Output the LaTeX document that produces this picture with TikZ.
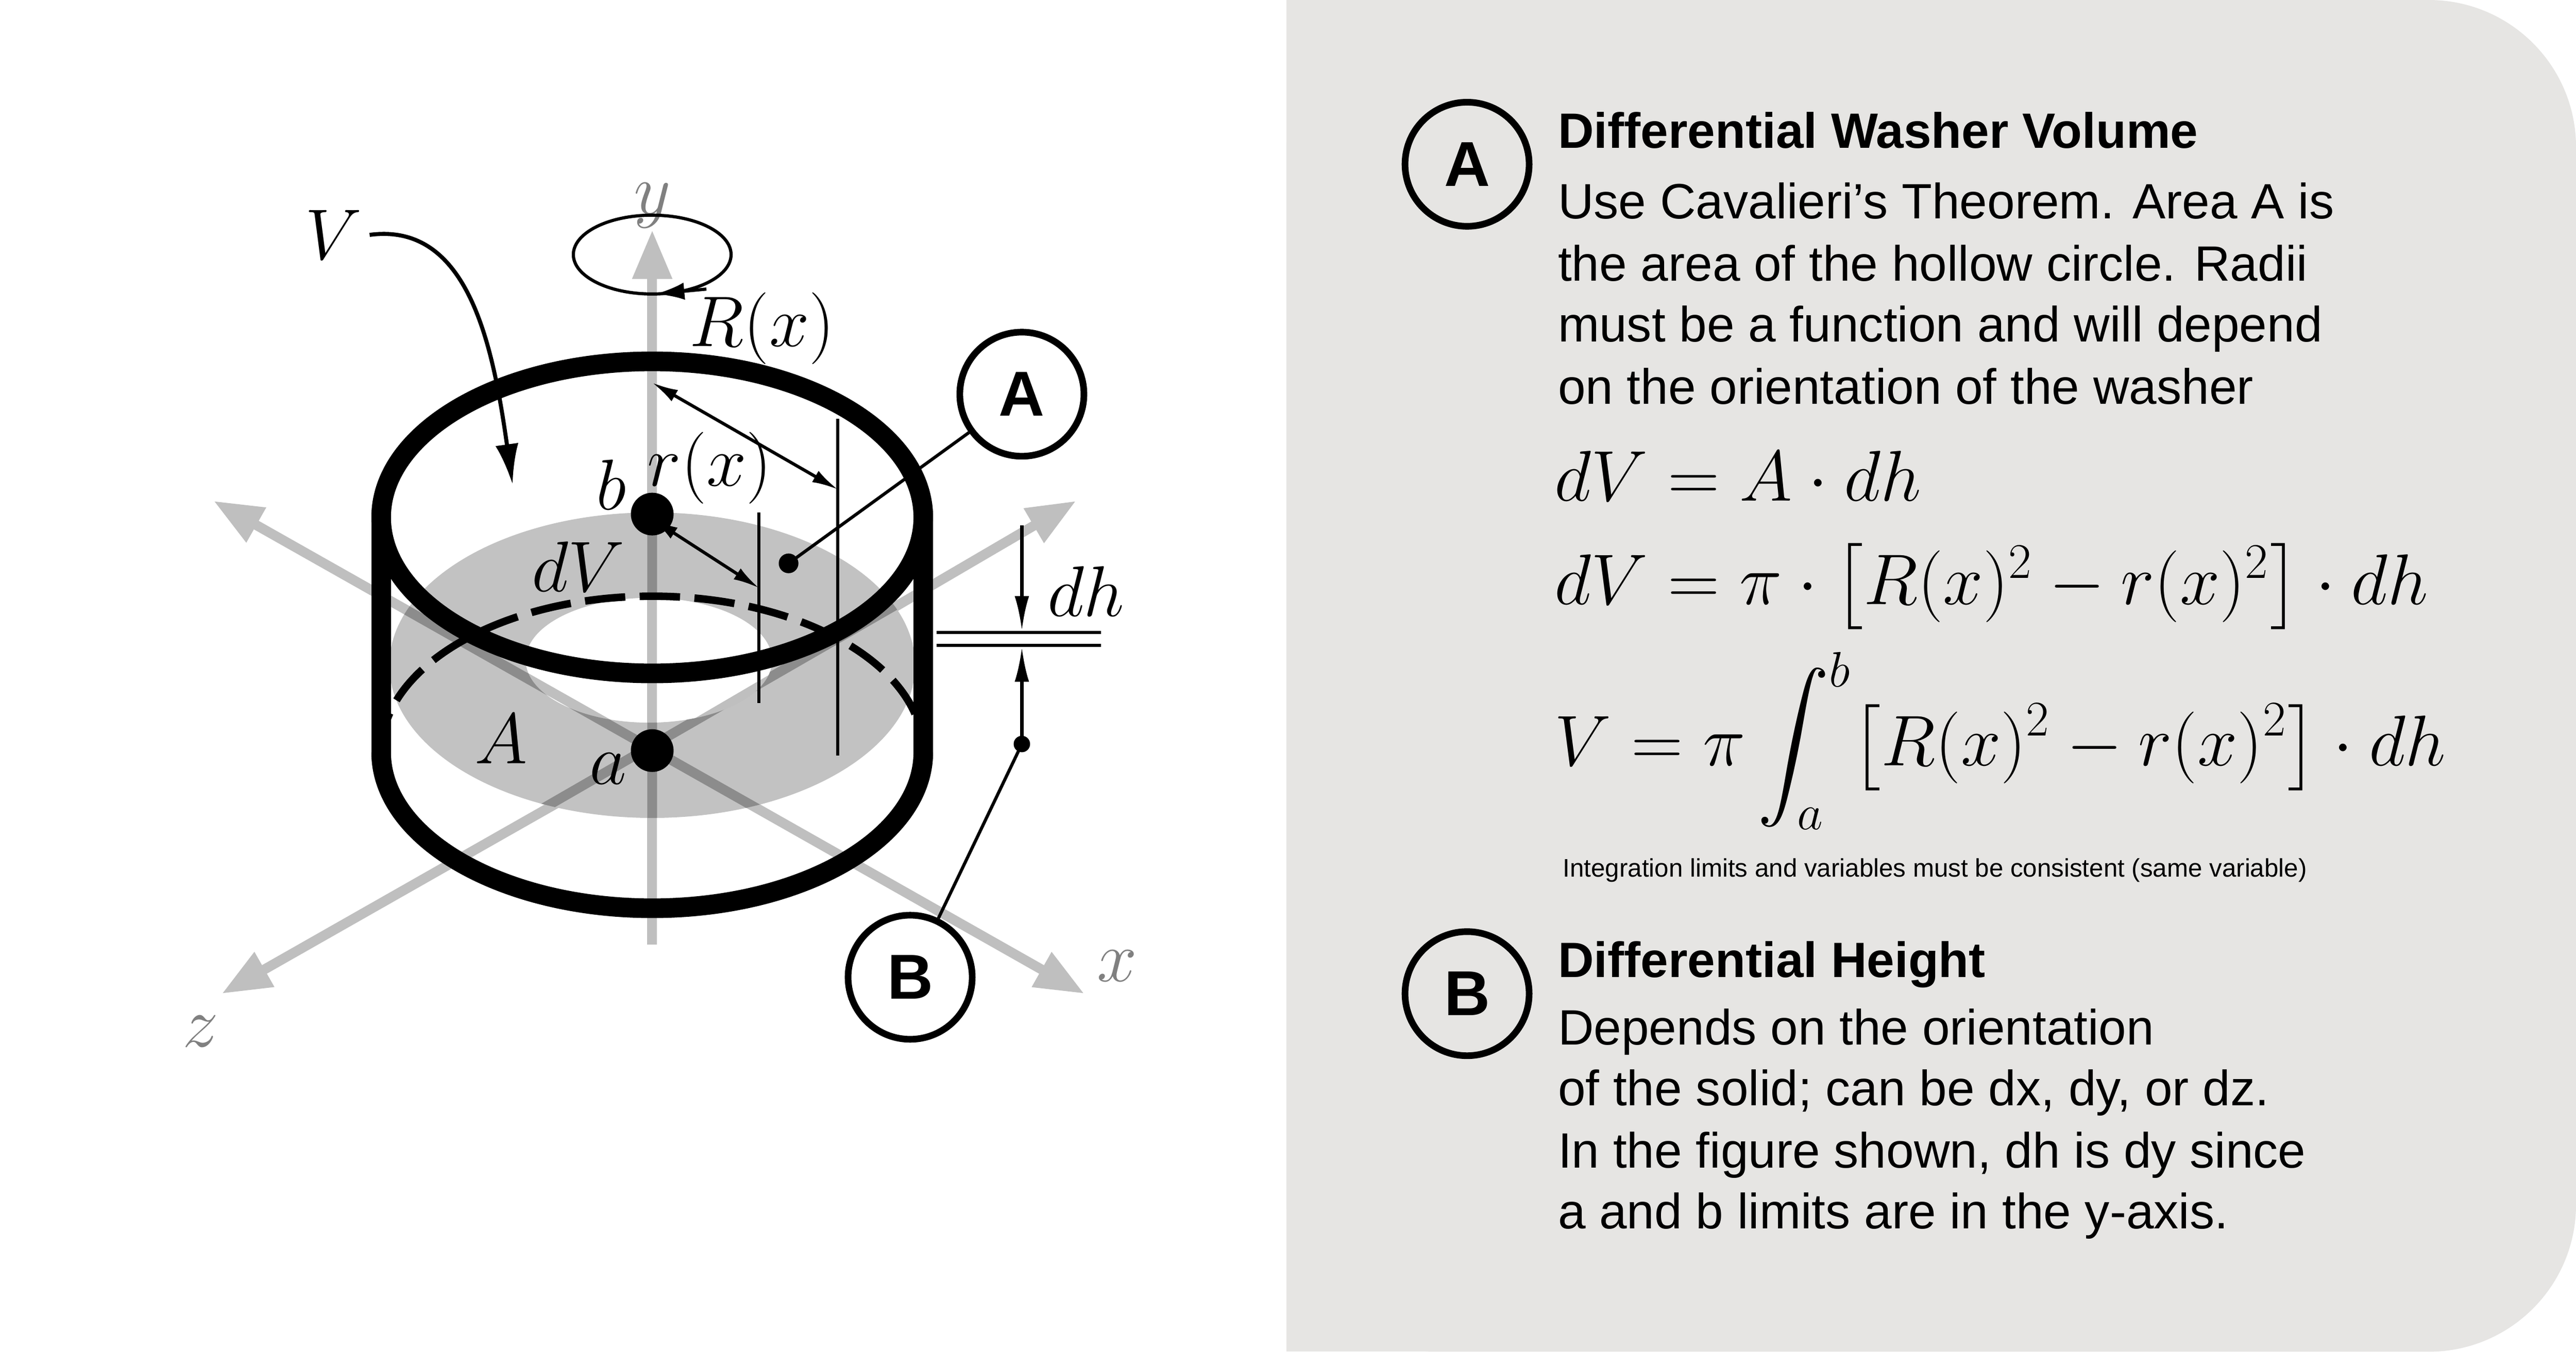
\documentclass[tikz,border=0pt]{standalone}
\usepackage{exscale}
\usepackage{fontspec}
\setmainfont{Liberation Sans}
\usetikzlibrary{arrows.meta}
\definecolor{panel}{HTML}{E6E5E3}
\definecolor{axisg}{HTML}{BFBFBF}
\definecolor{ring}{HTML}{C2C2C2}
\tikzset{
 ax/.style={axisg,line width=3.4pt,-{Triangle[length=17pt,width=13pt]}},
 cyl/.style={line width=6.8pt},
 thin/.style={line width=1.1pt},
 dim/.style={thin,{Latex[length=9pt,width=4.5pt]}-{Latex[length=9pt,width=4.5pt]}},
 lab/.style={inner sep=0pt,font=\fontsize{28}{32}\selectfont},
 badge/.style={circle,draw,line width=2.3pt,minimum size=43pt,inner sep=0pt,font=\fontsize{22}{26}\selectfont\bfseries},
 body/.style={anchor=base west,inner sep=0pt,font=\fontsize{17.2}{20}\selectfont},
 ttl/.style={anchor=base west,inner sep=0pt,font=\fontsize{17.2}{20}\selectfont\bfseries},
 eq/.style={anchor=base west,inner sep=0pt,font=\fontsize{27}{31}\selectfont},
}
\begin{document}
\begin{tikzpicture}[x=0.02cm,y=-0.02cm]
\useasboundingbox (0,0) rectangle (1568,823);
\fill[white] (0,0) rectangle (1568,823);
\fill[panel,rounded corners=51pt] (783,0) rectangle (1568,823);
\fill[panel] (783,0) rectangle (1100,823);
% axes
\coordinate (O) at (397,456);
\draw[ax] (397,560) -- (397,140) coordinate (ytip);
\draw[axisg,line width=3.4pt] (397,540) -- (397,575);
\draw[ax] (O) -- (130,305);
\draw[ax] (O) -- (660,605);
\draw[ax] (O) -- (655,305);
\draw[ax] (O) -- (135,605);
\node[lab,text=gray] (ylab) at (397,125) {$y$};
\node[lab,text=gray] (xlab) at (680,588) {$x$};
\node[lab,text=gray] (zlab) at (122,628) {$z$};
% washer
\fill[ring,even odd rule] (397,405) ellipse [x radius=160,y radius=93] (395,402) ellipse [x radius=75,y radius=38];
\begin{scope}[even odd rule]
\clip (397,405) ellipse [x radius=160,y radius=93] (395,402) ellipse [x radius=75,y radius=38];
\draw[black!45,line width=3.4pt] (397,560) -- (397,140) (130,305) -- (660,605) (655,305) -- (135,605);
\end{scope}
% cylinder
\draw[line width=2.6pt,dash pattern=on 14pt off 5pt] (232,458) arc[start angle=180,end angle=0,x radius=165,y radius=-95];
\draw[cyl] (232,458) arc[start angle=180,end angle=360,x radius=165,y radius=-95];
\draw[cyl] (232,315) -- (232,458) (562,315) -- (562,458);
\draw[cyl] (397,315) ellipse [x radius=165,y radius=95];
% points
\fill (397,313) circle (13) coordinate (b);
\fill (397,457) circle (13) coordinate (a);
\node[lab] at (372,295) {$b$};
\node[lab] at (370,468) {$a$};
% rotation
\draw[thin] (397,155) ellipse [x radius=48,y radius=24];
\draw[thin,-{Latex[length=10pt,width=6pt]}] (430,176) -- (399,179);
% dimensions
\draw[thin] (510,255) -- (510,460);
\draw[thin] (462,312) -- (462,428);
\draw[dim] (397,233) -- (510,298);
\draw[dim] (397,316) -- (462,358);
\node[lab] at (464,200) {$R(x)$};
\node[lab] at (432,285) {$r(x)$};
\node[lab] at (352,345) {$dV$};
\node[lab] at (305,450) {$A$};
\node[lab] at (203,143) {$V$};
\draw[line width=1.4pt,-{Latex[length=14pt,width=8pt]}] (225,143) .. controls (285,135) and (300,210) .. (312,295);
% dh
\draw[thin] (570,385) -- (670,385) (570,393) -- (670,393);
\draw[thin,-{Latex[length=12pt,width=5pt]}] (622,320) -- (622,384);
\fill (622,453) circle (5) coordinate (bdot);
\draw[thin,-{Latex[length=12pt,width=5pt]}] (bdot) -- (622,394);
\node[lab] at (661,360) {$dh$};
% badges
\node[badge,fill=white] (A) at (622,240) {A};
\fill (480,343) circle (6) coordinate (adot);
\draw[thin] (A) -- (adot);
\node[badge,fill=white] (B) at (554,595) {B};
\draw[thin] (B) -- (bdot);
% right panel
\node[badge] (A2) at (893,100) {A};
\node[ttl] at (948,90) {Differential Washer Volume};
\node[body] at (948,133) {Use Cavalieri’s Theorem. Area A is};
\node[body] at (948,171) {the area of the hollow circle. Radii};
\node[body] at (948,208) {must be a function and will depend};
\node[body] at (948,246) {on the orientation of the washer};
\node[eq] at (946,305) {$dV = A\cdot dh$};
\node[eq] at (946,368) {$dV = \pi\cdot\bigl[R(x)^2-r(x)^2\bigr]\cdot dh$};
\node[eq] at (946,466) {$\displaystyle V = \pi\int_a^b\bigl[R(x)^2-r(x)^2\bigr]\cdot dh$};
\node[body,font=\fontsize{8.8}{10}\selectfont] at (951,534) {Integration limits and variables must be consistent (same variable)};
\node[badge] (B2) at (893,605) {B};
\node[ttl] at (948,595) {Differential Height};
\node[body] at (948,636) {Depends on the orientation};
\node[body] at (948,673) {of the solid; can be dx, dy, or dz.};
\node[body] at (948,711) {In the figure shown, dh is dy since};
\node[body] at (948,748) {a and b limits are in the y-axis.};
\end{tikzpicture}
\end{document}
